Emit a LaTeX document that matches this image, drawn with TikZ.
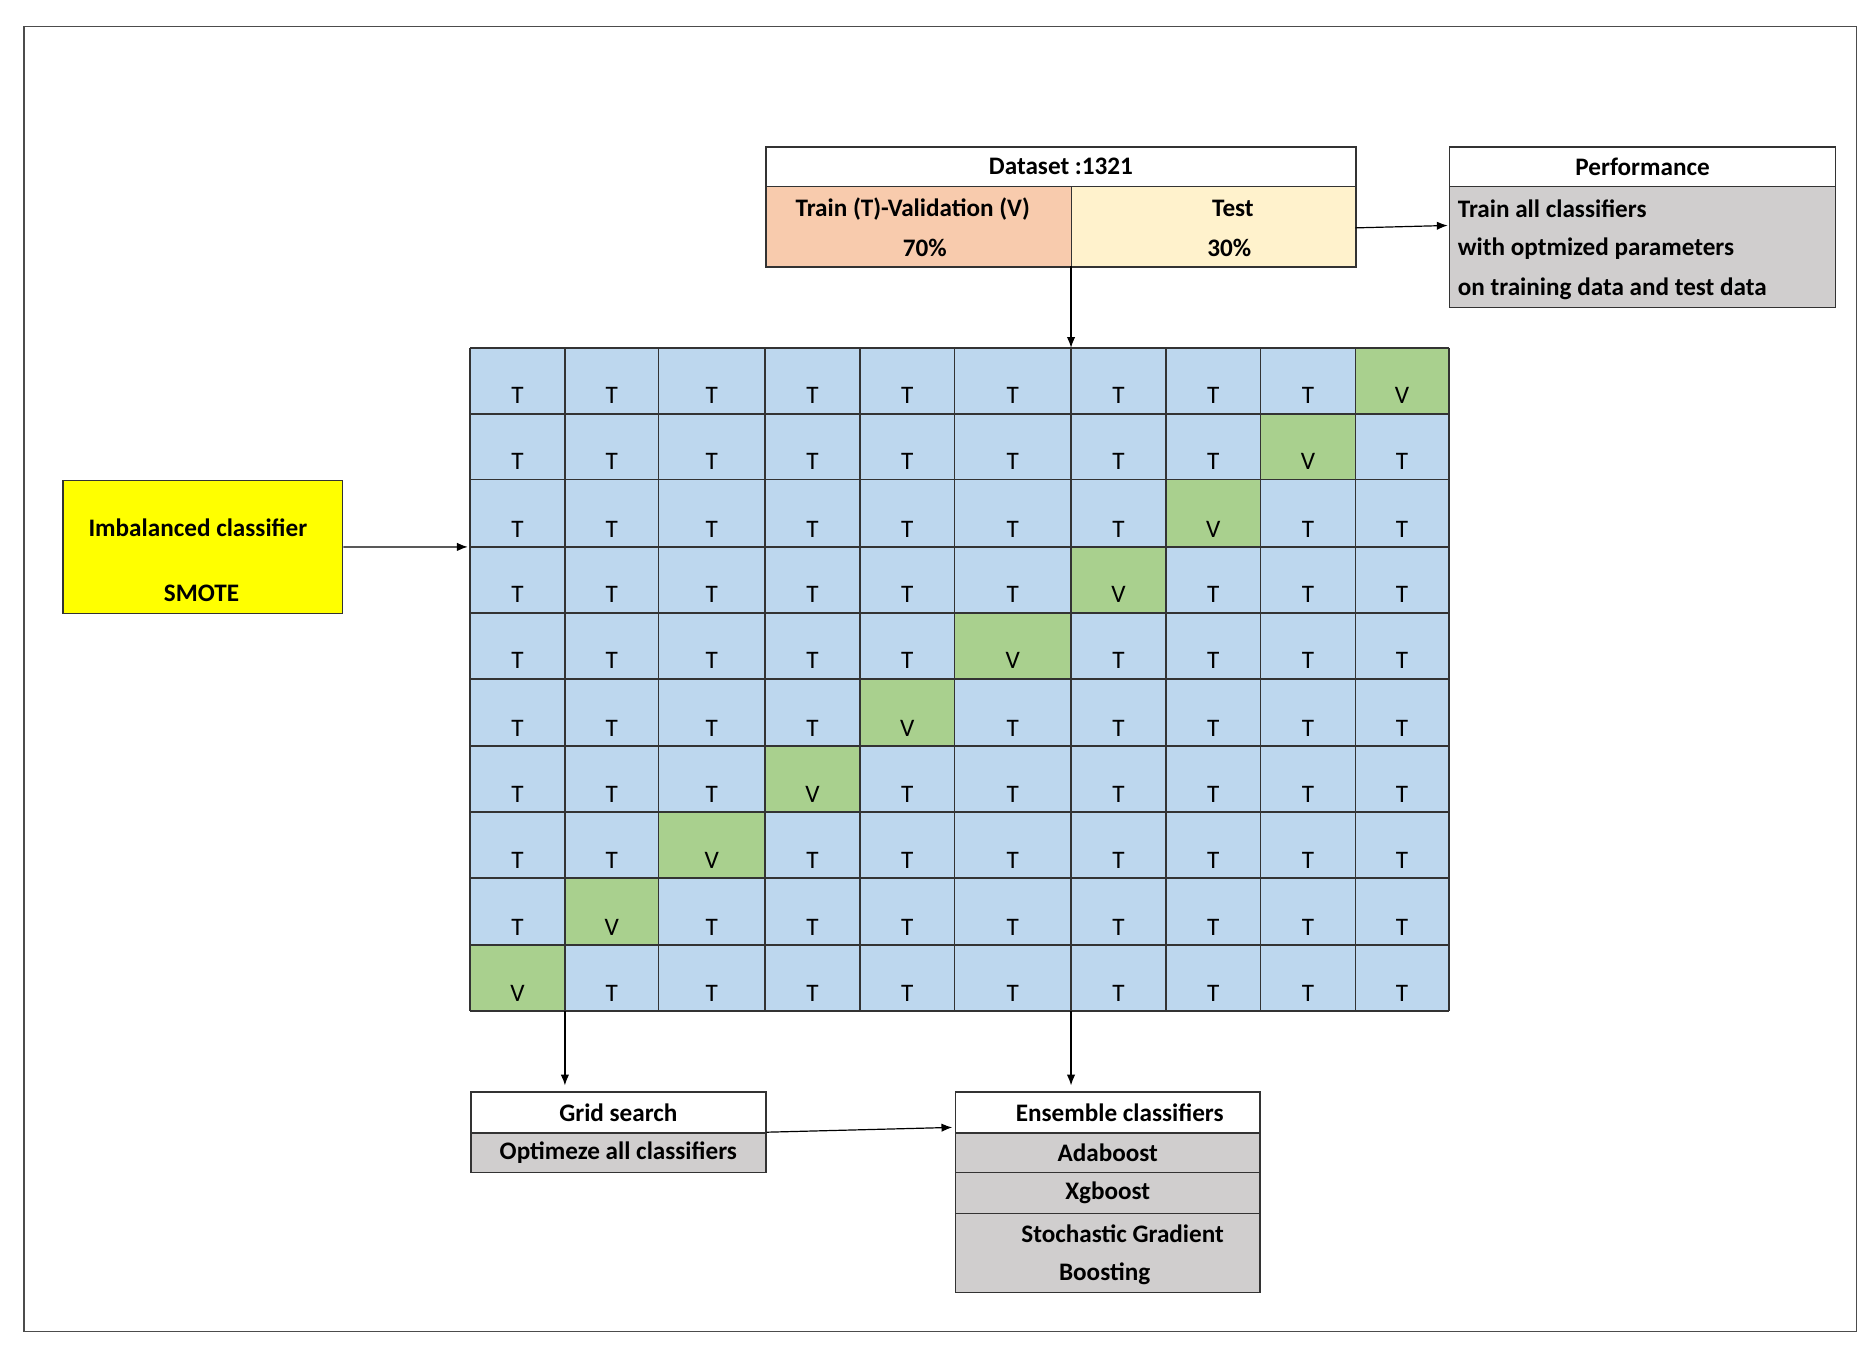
\documentclass[tikz,border=0pt]{standalone}
\usepackage{fontspec}
\setmainfont{Carlito}
\usetikzlibrary{arrows.meta}
\definecolor{cblue}{RGB}{189,215,238}
\definecolor{cgreen}{RGB}{169,208,142}
\definecolor{csalmon}{RGB}{248,203,173}
\definecolor{ccream}{RGB}{255,242,204}
\definecolor{cgray}{RGB}{208,206,206}
\definecolor{cyel}{RGB}{255,255,0}
\begin{document}
\begin{tikzpicture}[x=1pt,y=-1pt,
  box/.style={draw=black!80,line width=1.2pt,inner sep=0pt,anchor=north west},
  lbl/.style={font=\bfseries\fontsize{21}{25}\selectfont},
  arr/.style={-{Latex[length=9pt,width=7pt]},line width=1pt}]
\useasboundingbox (0,0) rectangle (1560,1127);
\draw[line width=1.2pt,black!70] (20,22) rectangle (1548,1110);
% dataset
\node[box,minimum width=492pt,minimum height=33pt,lbl] (ds) at (638,122) {Dataset :1321};
\node[box,fill=csalmon,minimum width=255pt,minimum height=67pt] (tv) at (638,155) {};
\node[lbl] at (761,174) {Train (T)-Validation (V)};
\node[lbl] at (771,207) {70\%};
\node[box,fill=ccream,minimum width=237pt,minimum height=67pt] (te) at (893,155) {};
\node[lbl] at (1028,174) {Test};
\node[lbl] at (1025,207) {30\%};
% performance
\node[box,minimum width=322pt,minimum height=33pt,lbl] (ph) at (1208,122) {Performance};
\node[box,fill=cgray,minimum width=322pt,minimum height=101pt] (pb) at (1208,155) {};
\node[lbl,anchor=west] at (1212,174) {Train all classifiers};
\node[lbl,anchor=west] at (1212,207) {with optmized parameters};
\node[lbl,anchor=west] at (1212,241) {on training data and test data};
% grid
\def\xs{{392,471,549,638,717,796,893,972,1051,1130,1208}}
\def\ys{{290,345,400,456,511,566,622,677,732,788,843}}
\foreach \r in {0,...,9}{
  \foreach \c in {0,...,9}{
    \pgfmathsetmacro{\xa}{\xs[\c]}\pgfmathsetmacro{\xb}{\xs[\c+1]}
    \pgfmathsetmacro{\ya}{\ys[\r]}\pgfmathsetmacro{\yb}{\ys[\r+1]}
    \pgfmathtruncatemacro{\isv}{(\c==9-\r)?1:0}
    \ifnum\isv=1
      \fill[cgreen] (\xa,\ya) rectangle (\xb,\yb);
      \node[lbl,font=\fontsize{21}{25}\selectfont] at ({(\xa+\xb)/2},{\yb-15}) {V};
    \else
      \fill[cblue] (\xa,\ya) rectangle (\xb,\yb);
      \node[lbl,font=\fontsize{21}{25}\selectfont] at ({(\xa+\xb)/2},{\yb-15}) {T};
    \fi
  }}
\foreach \c in {0,...,10}{\pgfmathsetmacro{\xa}{\xs[\c]}\draw[line width=1.2pt,black!80] (\xa,290)--(\xa,843);}
\foreach \r in {0,...,10}{\pgfmathsetmacro{\ya}{\ys[\r]}\draw[line width=1.2pt,black!80] (392,\ya)--(1208,\ya);}
\coordinate (gtop) at (893,290);
\coordinate (gleft) at (392,456);
\coordinate (gb1) at (471,843);
\coordinate (gb2) at (893,843);
% imbalanced
\node[box,fill=cyel,minimum width=233pt,minimum height=111pt] (imb) at (52,400) {};
\node[lbl] at (165,440) {Imbalanced classifier};
\node[lbl] at (168,495) {SMOTE};
% grid search
\node[box,minimum width=246pt,minimum height=34pt,lbl] (gs) at (392,910) {Grid search};
\node[box,fill=cgray,minimum width=246pt,minimum height=33pt,lbl] (gsb) at (392,944) {Optimeze all classifiers};
% ensemble
\node[box,minimum width=254pt,minimum height=34pt,lbl] (en) at (796,910) {\hspace*{20pt}Ensemble classifiers};
\node[box,fill=cgray,minimum width=254pt,minimum height=33pt,lbl] (ad) at (796,944) {Adaboost};
\node[box,fill=cgray,minimum width=254pt,minimum height=34pt,lbl] (xg) at (796,977) {Xgboost};
\node[box,fill=cgray,minimum width=254pt,minimum height=66pt] (sg) at (796,1011) {};
\node[lbl] at (936,1029) {Stochastic Gradient};
\node[lbl] at (921,1062) {Boosting};
% arrows
\draw[arr] (893,222) -- (gtop);
\draw[arr] (imb.east) -- ([xshift=-2pt]gleft);
\draw[arr] (1130,190) -- (1207,188);
\draw[arr] (gb1) -- (471,905);
\draw[arr] (gb2) -- (893,905);
\draw[arr] (gsb.north east) -- (794,940);
\end{tikzpicture}
\end{document}
